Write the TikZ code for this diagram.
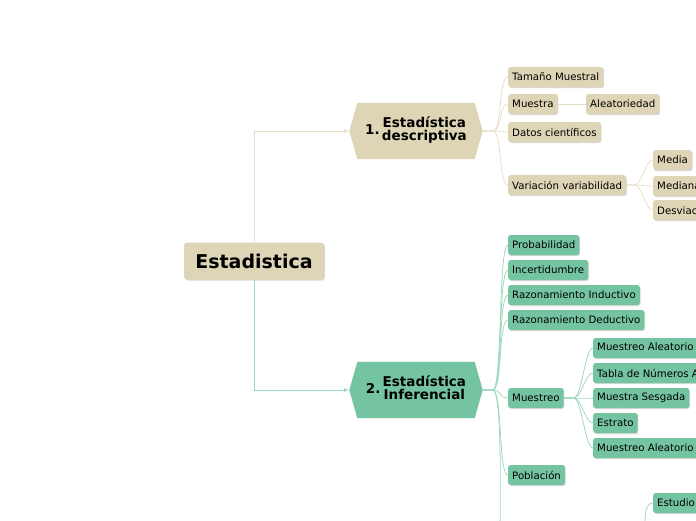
\documentclass[tikz,border=0pt]{standalone}
\usepackage{fontspec}
\setmainfont{DejaVu Sans}
\usetikzlibrary{shadows}
\definecolor{bei}{HTML}{DDD5B5}
\definecolor{beil}{HTML}{E6DFC8}
\definecolor{grn}{HTML}{74C4A2}
\definecolor{grnl}{HTML}{9FD8C0}
\tikzset{
 leaf/.style={rounded corners=2.5pt,inner xsep=4pt,minimum height=20pt,font=\fontsize{10.2}{11.5}\selectfont,anchor=west,drop shadow={shadow xshift=0.8pt,shadow yshift=-1pt,fill=black!30}},
 bleaf/.style={leaf,fill=bei},
 gleaf/.style={leaf,fill=grn},
 bcon/.style={draw=beil,line width=0.8pt},
 gcon/.style={draw=grnl,line width=0.8pt},
 hexn/.style={minimum width=133pt,minimum height=56pt,inner sep=0pt},
 hext/.style={font=\bfseries\fontsize{13.5}{15}\selectfont}
}
\begin{document}
\begin{tikzpicture}[x=1pt,y=-1pt]
\useasboundingbox (0,0) rectangle (696,520);
\clip (0,0) rectangle (696,520);
% root
\node[fill=bei,rounded corners=3pt,minimum width=140pt,minimum height=37pt,font=\bfseries\fontsize{19}{21}\selectfont,drop shadow={shadow xshift=0.8pt,shadow yshift=-1pt,fill=black!30}] (root) at (254,261) {Estadistica};
% hex nodes
\node[hexn] (d1) at (416,131) {};
\fill[bei] ([xshift=8pt]d1.north west) -- ([xshift=-8pt]d1.north east) -- (d1.east) -- ([xshift=-8pt]d1.south east) -- ([xshift=8pt]d1.south west) -- (d1.west) -- cycle;
\node[hext] at (d1) {1.\,\begin{tabular}{@{}c@{}}Estadística\\[-2pt]descriptiva\end{tabular}};
\node[hexn] (d2) at (416,390) {};
\fill[grn] ([xshift=8pt]d2.north west) -- ([xshift=-8pt]d2.north east) -- (d2.east) -- ([xshift=-8pt]d2.south east) -- ([xshift=8pt]d2.south west) -- (d2.west) -- cycle;
\node[hext] at (d2) {2.\,\begin{tabular}{@{}c@{}}Estadística\\[-2pt]Inferencial\end{tabular}};
\draw[bcon,-latex] (root.north) |- (d1.west);
\draw[gcon,-latex] (root.south) |- (d2.west);
% branch 1
\node[bleaf] (t1) at (508,77) {Tamaño Muestral};
\node[bleaf] (t2) at (508,104) {Muestra};
\node[bleaf] (t2a) at (586,104) {Aleatoriedad};
\node[bleaf] (t3) at (508,132) {Datos científicos};
\node[bleaf] (t4) at (508,185) {Variación variabilidad};
\node[bleaf] (m1) at (653,160) {Media};
\node[bleaf] (m2) at (653,186) {Mediana};
\node[bleaf] (m3) at (653,210) {Desviación};
\foreach \c in {t1,t2,t3,t4}
 \draw[bcon] (d1.east) -- ++(10,0) .. controls +(10,0) and +(-10,0) .. (\c.west);
\draw[bcon] (t2.east) -- (t2a.west);
\foreach \c in {m1,m2,m3}
 \draw[bcon] (t4.east) -- ++(8,0) .. controls +(8,0) and +(-8,0) .. (\c.west);
% branch 2
\node[gleaf] (p1) at (508,245) {Probabilidad};
\node[gleaf] (p2) at (508,270) {Incertidumbre};
\node[gleaf] (p3) at (508,295) {Razonamiento Inductivo};
\node[gleaf] (p4) at (508,320) {Razonamiento Deductivo};
\node[gleaf] (p5) at (508,398) {Muestreo};
\node[gleaf] (p6) at (508,475) {Población};
\coordinate (p7) at (500,540);
\node[gleaf] (s1) at (593,348) {Muestreo Aleatorio Simple};
\node[gleaf] (s2) at (593,373) {Tabla de Números Aleatorios};
\node[gleaf] (s3) at (593,398) {Muestra Sesgada};
\node[gleaf] (s4) at (593,423) {Estrato};
\node[gleaf] (s5) at (593,448) {Muestreo Aleatorio Estratificado};
\node[gleaf] (e1) at (653,503) {Estudio};
\foreach \c in {p1,p2,p3,p4,p5,p6}
 \draw[gcon] (d2.east) -- ++(10,0) .. controls +(10,0) and +(-10,0) .. (\c.west);
\draw[gcon] (d2.east) -- ++(10,0) .. controls +(10,0) and +(0,-30) .. (p7);
\foreach \c in {s1,s2,s3,s4,s5}
 \draw[gcon] (p5.east) -- ++(10,0) .. controls +(8,0) and +(-8,0) .. (\c.west);
\draw[gcon] (e1.west) .. controls +(-8,0) and +(0,-10) .. (645,525);
\end{tikzpicture}
\end{document}
